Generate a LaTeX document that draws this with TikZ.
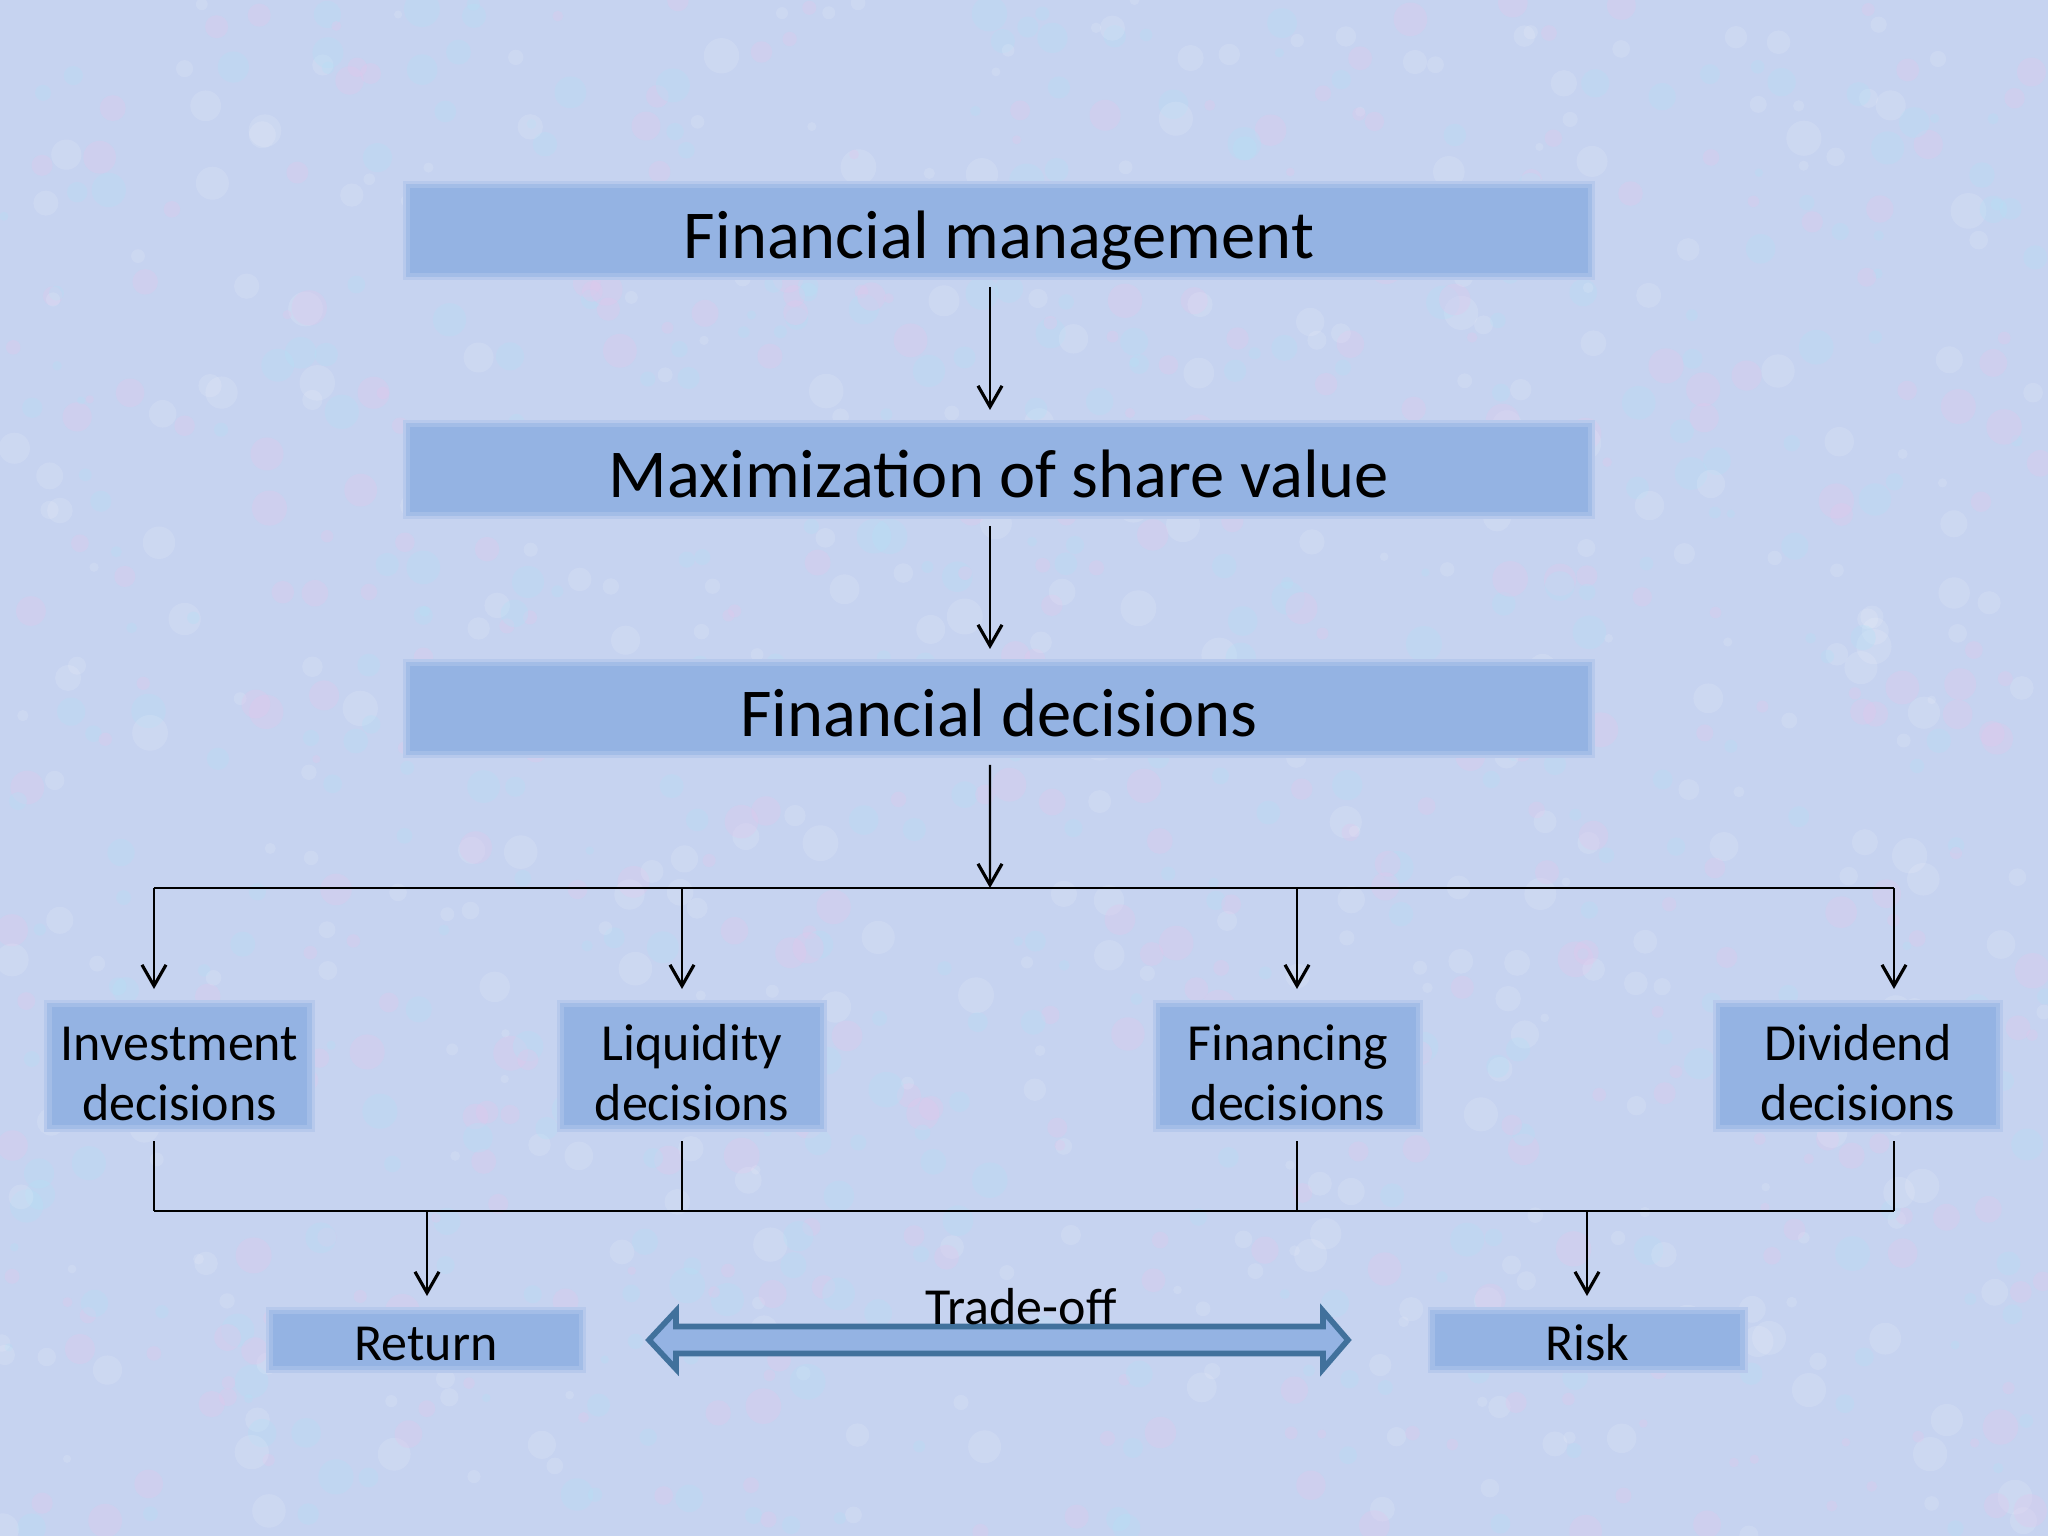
\documentclass[tikz,border=0pt]{standalone}
\usepackage{fontspec}
\setmainfont{Carlito}
\usepackage{tikz}
\usetikzlibrary{arrows.meta, positioning, calc}
\definecolor{paper}{HTML}{C6D3F0}
\definecolor{pinkish}{HTML}{E2C6EC}
\definecolor{cyanish}{HTML}{B4E0F6}
\definecolor{boxblue}{HTML}{94B3E3}
\definecolor{edgeblue}{HTML}{41719C}
\tikzstyle{topbox} = [rectangle, minimum width=11.82cm, minimum height=0.89cm, text centered, fill=boxblue, preaction={draw=boxblue!30!paper, line width=0.1cm}, draw=boxblue!70!paper, line width=0.045cm, outer sep=0pt, text height=15.9pt, text depth=0pt, font=\fontsize{19.5}{23}\selectfont]
\tikzstyle{subbox} = [rectangle, minimum width=2.6cm, minimum height=1.22cm, align=center, fill=boxblue, preaction={draw=boxblue!30!paper, line width=0.1cm}, draw=boxblue!70!paper, line width=0.045cm, inner sep=0pt, outer sep=0pt, text height=31.2pt, text depth=0pt, font=\fontsize{14.8}{17.2}\selectfont]
\tikzstyle{outbox} = [subbox, minimum width=3.1cm, minimum height=0.56cm, text height=11.4pt]
\tikzstyle{arrow} = [line width=0.6pt, -{Straight Barb[length=2.1mm, width=2.4mm, line width=0.9pt]}]
\tikzstyle{link} = [line width=0.6pt]
\tikzstyle{tradearrow} = [draw=edgeblue, fill=boxblue, line width=1.6pt, line join=miter]

\begin{document}
\begin{tikzpicture}
    % Background
    \fill[paper] (0,0) rectangle (20.48,-15.36);
    \useasboundingbox (0,0) rectangle (20.48,-15.36);
    \pgfmathsetseed{11}
    \begin{scope}
        \clip (0,0) rectangle (20.48,-15.36);
        \foreach \i in {1,...,1200} {
            \pgfmathsetmacro{\px}{rnd*20.48}
            \pgfmathsetmacro{\py}{-rnd*15.36}
            \pgfmathsetmacro{\pr}{0.04+rnd*0.14}
            \pgfmathtruncatemacro{\pc}{mod(\i,3)}
            \ifnum\pc=0
                \fill[pinkish, opacity=0.3] (\px,\py) circle (\pr);
            \else\ifnum\pc=1
                \fill[cyanish, opacity=0.3] (\px,\py) circle (\pr);
            \else
                \fill[white, opacity=0.12] (\px,\py) circle (\pr);
            \fi\fi
        }
    \end{scope}

    % Nodes
    \node (fm) [topbox] at (9.99,-2.305) {Financial management};
    \node (msv) [topbox, below=1.50cm of fm] {Maximization of share value};
    \node (fd) [topbox, below=1.50cm of msv] {Financial decisions};
    \node (inv) [subbox] at (1.795,-10.66) {Investment\\decisions};
    \node (liq) [subbox] at (6.92,-10.66) {Liquidity\\decisions};
    \node (fin) [subbox] at (12.88,-10.66) {Financing\\decisions};
    \node (div) [subbox, minimum width=2.8cm] at (18.58,-10.66) {Dividend\\decisions};
    \node (ret) [outbox] at (4.26,-13.40) {Return};
    \node (risk) [outbox] at (15.875,-13.40) {Risk};

    % Bus points
    \coordinate (split) at (9.90,-8.88);
    \coordinate (bi) at (1.54,-8.88);
    \coordinate (bl) at (6.82,-8.88);
    \coordinate (bf) at (12.97,-8.88);
    \coordinate (bd) at (18.94,-8.88);
    \coordinate (ci) at (1.54,-12.11);
    \coordinate (cl) at (6.82,-12.11);
    \coordinate (cf) at (12.97,-12.11);
    \coordinate (cd) at (18.94,-12.11);
    \coordinate (cr) at (4.27,-12.11);
    \coordinate (ck) at (15.87,-12.11);

    % Arrows
    \draw [arrow, shorten <=0.12cm, shorten >=0.15cm] ([xshift=-0.09cm]fm.south) -- ([xshift=-0.09cm]msv.north);
    \draw [arrow, shorten <=0.12cm, shorten >=0.15cm] ([xshift=-0.09cm]msv.south) -- ([xshift=-0.09cm]fd.north);
    \draw [arrow, shorten <=0.12cm] ([xshift=-0.09cm]fd.south) -- (split);
    \draw [link] (bi) -- (bd);
    \foreach \b/\n in {bi/inv, bl/liq, bf/fin, bd/div}
        \draw [arrow, shorten >=0.16cm] (\b) -- (\b |- \n.north);
    \foreach \c/\n in {ci/inv, cl/liq, cf/fin, cd/div}
        \draw [link, shorten <=0.14cm] (\c |- \n.south) -- (\c);
    \draw [link] (ci) -- (cd);
    \draw [arrow, shorten >=0.16cm] (cr) -- (cr |- ret.north);
    \draw [arrow, shorten >=0.16cm] (ck) -- (ck |- risk.north);

    % Trade-off
    \draw [tradearrow] (6.49,-13.40) -- (6.76,-13.11) -- (6.76,-13.265) -- (13.23,-13.265) -- (13.23,-13.11)
        -- (13.48,-13.40) -- (13.23,-13.69) -- (13.23,-13.535) -- (6.76,-13.535) -- (6.76,-13.69) -- cycle;
    \node (tlabel) [anchor=base, font=\fontsize{14.8}{17.2}\selectfont] at (10.21,-13.24) {Trade-off};
\end{tikzpicture}
\end{document}
